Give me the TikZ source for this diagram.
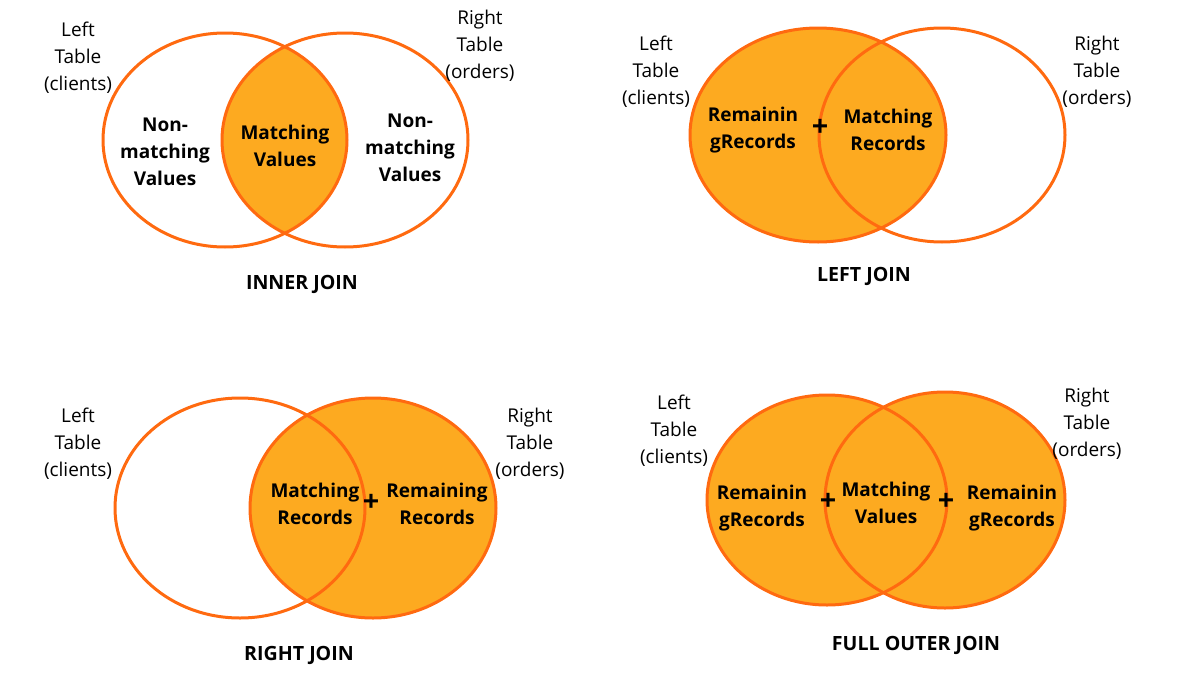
\documentclass[tikz,border=0pt]{standalone}
\usepackage{fontspec}
\setmainfont{Open Sans}
\definecolor{ol}{HTML}{FF6A10}
\definecolor{fl}{HTML}{FDAA20}
\begin{document}
\begin{tikzpicture}[x=0.5pt,y=-0.5pt]
\tikzset{
 ring/.style={draw=ol,line width=1.5pt},
 lbl/.style={align=center,font=\fontsize{9.5}{13.5}\selectfont},
 blbl/.style={align=center,font=\fontsize{9.5}{13.5}\selectfont\bfseries},
 ttl/.style={font=\fontsize{9.8}{12}\selectfont\bfseries}
}
\useasboundingbox (0,0) rectangle (1200,680);
% Panel 1 inner join
\begin{scope}
\clip (225,140) ellipse [x radius=122,y radius=107];
\fill[fl] (345,140) ellipse [x radius=123,y radius=107];
\end{scope}
\draw[ring] (225,140) ellipse [x radius=122,y radius=107];
\draw[ring] (345,140) ellipse [x radius=123,y radius=107];
\node[lbl] (l1) at (78,58) {Left\\Table\\(clients)};
\node[lbl] (r1) at (480,46) {Right\\Table\\(orders)};
\node[blbl] (n1) at (165,152) {Non-\\matching\\Values};
\node[blbl] (m1) at (285,146) {Matching\\Values};
\node[blbl] (n2) at (410,148) {Non-\\matching\\Values};
\node[ttl] (t1) at (302,284) {INNER JOIN};
% Panel 2 left join
\fill[fl] (818,135) ellipse [x radius=128,y radius=107];
\draw[ring] (818,135) ellipse [x radius=128,y radius=107];
\draw[ring] (942,135) ellipse [x radius=123,y radius=107];
\node[lbl] (l2) at (656,72) {Left\\Table\\(clients)};
\node[lbl] (r2) at (1097,72) {Right\\Table\\(orders)};
\node[blbl] (a2) at (753,130) {Remainin\\gRecords};
\node[font=\Large\bfseries] (p2) at (820,128) {+};
\node[blbl] (b2) at (888,130) {Matching\\Records};
\node[ttl] (t2) at (864,276) {LEFT JOIN};
% Panel 3 right join
\fill[fl] (373,508) ellipse [x radius=123,y radius=110];
\draw[ring] (240,508) ellipse [x radius=125,y radius=110];
\draw[ring] (373,508) ellipse [x radius=123,y radius=110];
\node[lbl] (l3) at (78,444) {Left\\Table\\(clients)};
\node[lbl] (r3) at (530,444) {Right\\Table\\(orders)};
\node[blbl] (a3) at (315,504) {Matching\\Records};
\node[font=\Large\bfseries] (p3) at (371,503) {+};
\node[blbl] (b3) at (437,504) {Remaining\\Records};
\node[ttl] (t3) at (299,655) {RIGHT JOIN};
% Panel 4 full outer join
\fill[fl] (827,500) ellipse [x radius=120,y radius=105];
\fill[fl] (945,500) ellipse [x radius=120,y radius=108];
\draw[ring] (827,500) ellipse [x radius=120,y radius=105];
\draw[ring] (945,500) ellipse [x radius=120,y radius=108];
\node[lbl] (l4) at (674,431) {Left\\Table\\(clients)};
\node[lbl] (r4) at (1087,424) {Right\\Table\\(orders)};
\node[blbl] (a4) at (762,508) {Remainin\\gRecords};
\node[font=\Large\bfseries] (p4) at (828,502) {+};
\node[blbl] (b4) at (886,503) {Matching\\Values};
\node[font=\Large\bfseries] (p5) at (946,502) {+};
\node[blbl] (c4) at (1012,508) {Remainin\\gRecords};
\node[ttl] (t4) at (916,645) {FULL OUTER JOIN};
\end{tikzpicture}
\end{document}
